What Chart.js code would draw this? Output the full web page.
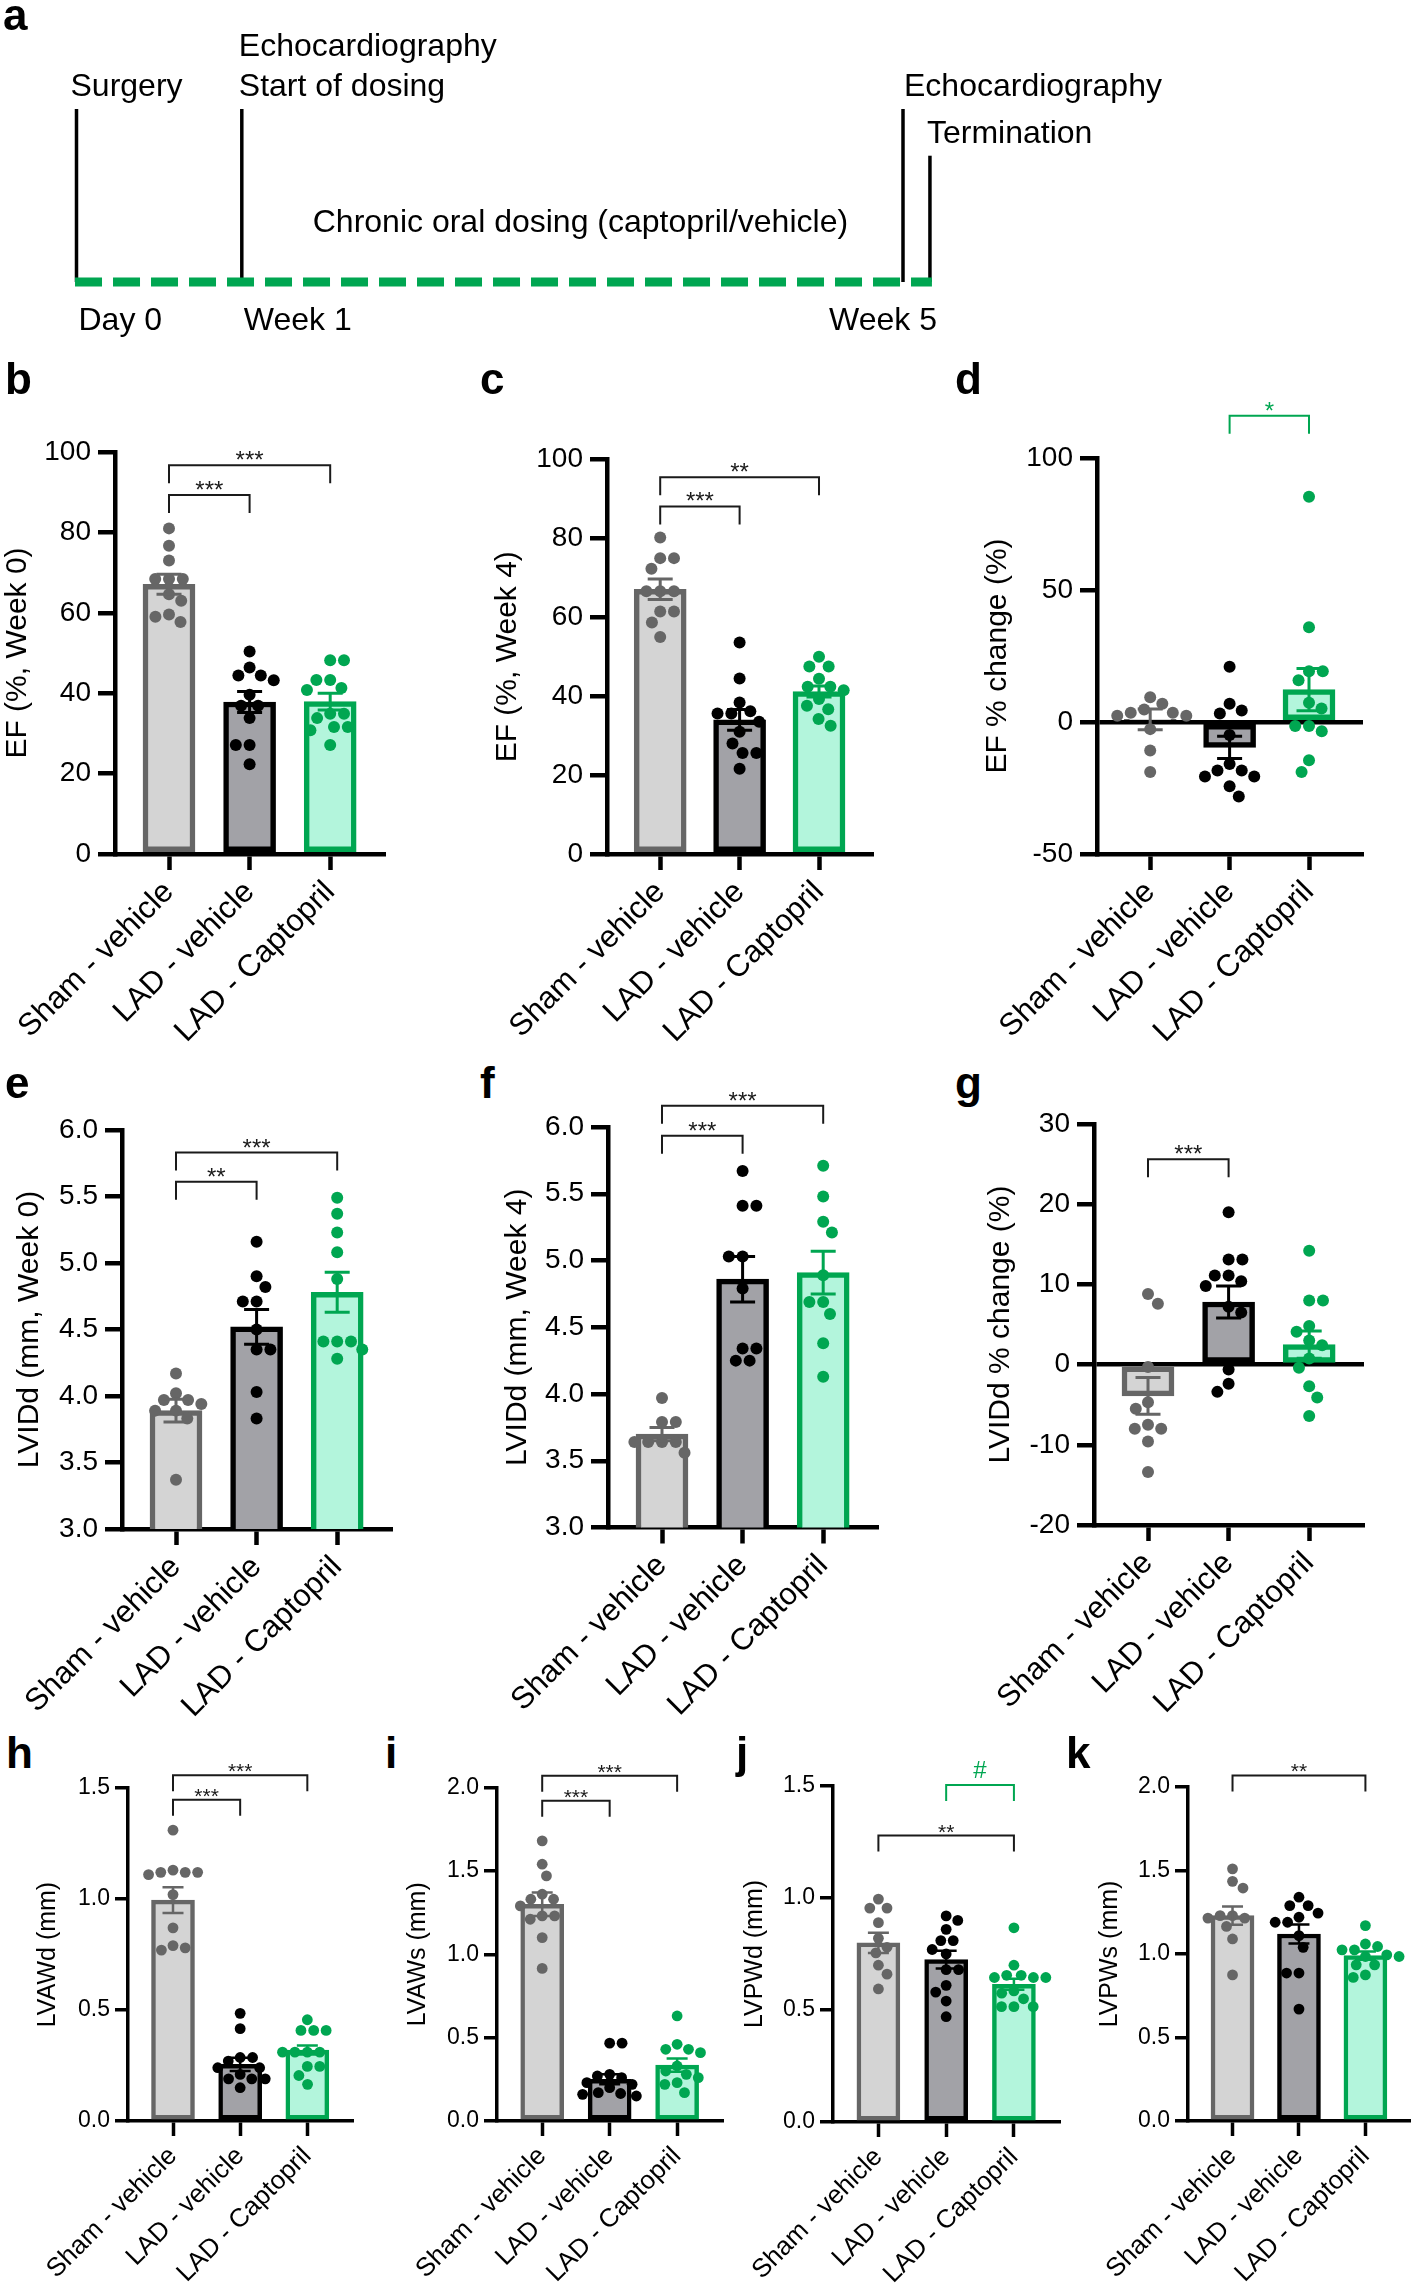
<!DOCTYPE html>
<html><head><meta charset="utf-8">
<script src="https://cdn.jsdelivr.net/npm/chart.js"></script>
<style>
html,body{margin:0;padding:0;background:#fff;}
#fig{position:relative;width:1416px;height:2287px;overflow:hidden;background:#fff;}
.box{position:absolute;}
.lbl{position:absolute;font-family:'Liberation Sans',Arial,Helvetica,sans-serif;font-weight:bold;font-size:44px;line-height:44px;color:#000;}
</style></head>
<body><div id="fig"></div>
<script>
// ---------------- DATA ----------------
const categories = ['Sham - vehicle', 'LAD - vehicle', 'LAD - Captopril'];

// a: timeline
const timelineWeeks = [0, 1, 5, 5.163];
const timelineTops = [1, 1, 1, 0.73];
const timelineLabels = [['Surgery'], ['Echocardiography', 'Start of dosing'], ['Echocardiography'], ['Termination']];
const timelineTickLabels = ['Day 0', 'Week 1', 'Week 5'];
const timelineTickWeeks = [0, 1, 5];
const dosingSpan = [-0.009, 5.175];
const dosingLabel = 'Chronic oral dosing (captopril/vehicle)';

// b: EF week 0
const ef0Sham = [81.0, 76.7, 73.0, 68.4, 68.4, 68.4, 64.6, 63.0, 59.6, 59.0, 57.7];
const ef0Lad  = [50.4, 46.4, 44.4, 44.4, 43.2, 39.6, 36.9, 36.9, 33.8, 27.1, 27.1, 22.3];
const ef0Cap  = [48.2, 48.2, 43.3, 43.3, 41.3, 40.8, 34.9, 34.9, 33.8, 31.6, 31.6, 30.8, 27.1];
const ef0Mean = [67.1, 37.8, 37.9];
const ef0Sem  = [2.5, 2.6, 2.1];
const ef0Sig  = [[0, 1, 89.3, '***'], [0, 2, 96.7, '***']];

// c: EF week 4
const ef4Sham = [80.2, 75.0, 75.0, 72.3, 66.6, 66.6, 66.6, 61.5, 61.5, 58.7, 55.0];
const ef4Lad  = [53.6, 44.5, 38.4, 36.2, 35.6, 35.6, 33.5, 31.0, 28.0, 25.6, 25.6, 21.6];
const ef4Cap  = [50.0, 47.5, 47.5, 44.4, 42.4, 42.4, 41.5, 39.3, 37.6, 36.7, 34.2, 32.5];
const ef4Mean = [67.1, 34.0, 41.2];
const ef4Sem  = [2.6, 2.6, 1.4];
const ef4Sig  = [[0, 1, 88.1, '***'], [0, 2, 95.5, '**']];

// d: EF % change
const efChSham = [9.4, 6.9, 4.7, 3.5, 3.5, 2.4, 2.4, -2.7, -10.8, -18.9];
const efChLad  = [20.9, 6.9, 4.4, 3.2, -4.9, -15.9, -18.4, -18.4, -20.6, -20.6, -24.3, -28.2];
const efChCap  = [85.3, 35.9, 19.2, 19.2, 15.8, 7.3, 5.1, -1.5, -1.5, -3.5, -14.5, -18.9];
const efChMean = [1.0, -9.6, 12.3];
const efChSem  = [3.9, 4.2, 8.0];
const efChSig  = [[1, 2, 116, '*', 'green']];

// e: LVIDd week 0
const lvid0Sham = [4.17, 4.02, 3.97, 3.97, 3.94, 3.89, 3.89, 3.83, 3.37];
const lvid0Lad  = [5.16, 4.90, 4.82, 4.71, 4.71, 4.50, 4.35, 4.35, 4.03, 3.83];
const lvid0Cap  = [5.49, 5.37, 5.23, 5.08, 4.88, 4.41, 4.41, 4.41, 4.35, 4.28];
const lvid0Mean = [3.89, 4.52, 4.78];
const lvid0Sem  = [0.085, 0.13, 0.15];
const lvid0Sig  = [[0, 1, 5.61, '**'], [0, 2, 5.83, '***']];

// f: LVIDd week 4
const lvid4Sham = [3.97, 3.79, 3.79, 3.64, 3.64, 3.64, 3.64, 3.56];
const lvid4Lad  = [5.67, 5.41, 5.41, 5.03, 5.03, 4.79, 4.34, 4.34, 4.25, 4.25];
const lvid4Cap  = [5.71, 5.48, 5.29, 5.21, 4.89, 4.69, 4.69, 4.60, 4.38, 4.13];
const lvid4Mean = [3.70, 4.86, 4.91];
const lvid4Sem  = [0.05, 0.17, 0.16];
const lvid4Sig  = [[0, 1, 5.935, '***'], [0, 2, 6.16, '***']];

// g: LVIDd % change
const lvidChSham = [8.8, 7.6, -0.3, -4.7, -5.5, -7.5, -8.0, -8.0, -9.6, -13.4];
const lvidChLad  = [19.0, 13.1, 13.1, 11.1, 11.1, 10.4, 9.8, 7.2, 6.5, -0.6, -2.4, -3.4];
const lvidChCap  = [14.2, 8.0, 8.0, 4.8, 4.1, 3.0, 2.4, 0.75, -0.4, -2.7, -4.1, -6.4];
const lvidChMean = [-3.9, 7.8, 2.5];
const lvidChSem  = [2.3, 2.0, 1.7];
const lvidChSig  = [[0, 1, 25.6, '***']];

// h: LVAWd
const lvawdSham = [1.31, 1.13, 1.12, 1.12, 1.12, 1.11, 1.02, 0.87, 0.79, 0.78, 0.77];
const lvawdLad  = [0.485, 0.416, 0.286, 0.286, 0.27, 0.24, 0.24, 0.21, 0.19, 0.19, 0.19, 0.15];
const lvawdCap  = [0.456, 0.408, 0.408, 0.408, 0.31, 0.31, 0.31, 0.31, 0.246, 0.246, 0.205, 0.165];
const lvawdMean = [0.995, 0.255, 0.32];
const lvawdSem  = [0.058, 0.03, 0.02];
const lvawdSig  = [[0, 1, 1.447, '***'], [0, 2, 1.557, '***']];

// i: LVAWs
const lvawsSham = [1.68, 1.54, 1.47, 1.36, 1.33, 1.33, 1.29, 1.23, 1.23, 1.21, 1.10, 0.915];
const lvawsLad  = [0.467, 0.467, 0.28, 0.27, 0.26, 0.23, 0.22, 0.20, 0.17, 0.165, 0.16, 0.15];
const lvawsCap  = [0.63, 0.46, 0.43, 0.43, 0.41, 0.33, 0.30, 0.28, 0.26, 0.23, 0.22, 0.17];
const lvawsMean = [1.30, 0.25, 0.335];
const lvawsSem  = [0.07, 0.03, 0.04];
const lvawsSig  = [[0, 1, 1.92, '***'], [0, 2, 2.07, '***']];

// j: LVPWd
const lvpwdSham = [0.995, 0.955, 0.955, 0.89, 0.82, 0.78, 0.755, 0.70, 0.66, 0.594];
const lvpwdLad  = [0.92, 0.90, 0.86, 0.81, 0.81, 0.77, 0.75, 0.68, 0.68, 0.61, 0.58, 0.54, 0.47];
const lvpwdCap  = [0.867, 0.70, 0.655, 0.655, 0.645, 0.645, 0.645, 0.585, 0.575, 0.55, 0.515, 0.515, 0.515];
const lvpwdMean = [0.80, 0.725, 0.615];
const lvpwdSem  = [0.045, 0.04, 0.025];
const lvpwdSig  = [[0, 2, 1.279, '**'], [1, 2, 1.505, '#', 'green']];

// k: LVPWs
const lvpwsSham = [1.51, 1.435, 1.395, 1.23, 1.23, 1.215, 1.215, 1.165, 1.09, 0.875];
const lvpwsLad  = [1.34, 1.29, 1.29, 1.245, 1.22, 1.19, 1.19, 1.11, 1.04, 0.886, 0.886, 0.67];
const lvpwsCap  = [1.17, 1.06, 1.045, 1.025, 1.025, 0.995, 0.985, 0.985, 0.935, 0.935, 0.875, 0.86];
const lvpwsMean = [1.23, 1.12, 0.99];
const lvpwsSem  = [0.055, 0.057, 0.025];
const lvpwsSig  = [[0, 2, 2.069, '**']];

// tick labels
const efTicks = [0, 20, 40, 60, 80, 100];
const efChTicks = [-50, 0, 50, 100];
const lvidTicks = [3.0, 3.5, 4.0, 4.5, 5.0, 5.5, 6.0];
const lvidChTicks = [-20, -10, 0, 10, 20, 30];
const wall15Ticks = [0.0, 0.5, 1.0, 1.5];
const wall20Ticks = [0.0, 0.5, 1.0, 1.5, 2.0];

// ---------------- STYLE ----------------
const FONT = "'Liberation Sans', Arial, Helvetica, sans-serif";
Chart.defaults.font.family = FONT;
Chart.defaults.color = '#000';
const GREEN = '#00a651';
const groupStyle = [
  { fill: '#d4d4d4', edge: '#666666', dot: '#666666' },
  { fill: '#a2a2a7', edge: '#000000', dot: '#000000' },
  { fill: '#b3f5dc', edge: GREEN, dot: GREEN }
];
const BIG = { tickFont: 28, titleFont: 30, xFont: 31, axisW: 4.5, yTick: 17, xTick: 16, yPad: 7, xPad: 4,
  barW: 52, barBorder: 5.5, r: 6, errW: 3, cap: 12.5, brW: 2, leg: 18, sigFont: 24 };
const SMALL = { tickFont: 23, titleFont: 25, xFont: 26, axisW: 3.5, yTick: 13, xTick: 15, yPad: 5, xPad: 5,
  barW: 43, barBorder: 4.5, r: 5.4, errW: 2.5, cap: 10.5, brW: 2, leg: 16, sigFont: 21 };
const XMIN = -0.67, XMAX = 2.68;

const fig = document.getElementById('fig');
function addBox(left, top, width, height) {
  const d = document.createElement('div');
  d.className = 'box';
  Object.assign(d.style, { left: left + 'px', top: top + 'px', width: width + 'px', height: height + 'px' });
  const c = document.createElement('canvas');
  d.appendChild(c);
  fig.appendChild(d);
  return c;
}

// ---------------- PLUGINS ----------------
const statPlugin = {
  id: 'stat',
  afterDatasetsDraw(chart, args, o) {
    if (!o || !o.means) return;
    const { ctx } = chart;
    const xs = chart.scales.x, ys = chart.scales.y;
    const S = o.S;
    ctx.save();
    ctx.lineCap = 'butt';
    o.means.forEach((m, i) => {
      const px = xs.getPixelForValue(i);
      const t = ys.getPixelForValue(m + o.sems[i]);
      const b = ys.getPixelForValue(m - o.sems[i]);
      ctx.strokeStyle = groupStyle[i].edge;
      ctx.lineWidth = S.errW;
      ctx.beginPath();
      ctx.moveTo(px, t); ctx.lineTo(px, b);
      ctx.moveTo(px - S.cap, t); ctx.lineTo(px + S.cap, t);
      ctx.moveTo(px - S.cap, b); ctx.lineTo(px + S.cap, b);
      ctx.stroke();
    });
    o.brackets.forEach(br => {
      const [a, b, v, label, col] = br;
      const xa = xs.getPixelForValue(a), xb = xs.getPixelForValue(b), py = ys.getPixelForValue(v);
      const c = col === 'green' ? GREEN : '#1a1a1a';
      ctx.strokeStyle = c;
      ctx.lineWidth = S.brW;
      ctx.lineJoin = 'miter';
      ctx.beginPath();
      ctx.moveTo(xa, py + S.leg); ctx.lineTo(xa, py); ctx.lineTo(xb, py); ctx.lineTo(xb, py + S.leg);
      ctx.stroke();
      ctx.fillStyle = c;
      ctx.textAlign = 'center';
      ctx.textBaseline = 'alphabetic';
      if (label === '#') {
        ctx.font = '24px ' + FONT;
        ctx.fillText(label, (xa + xb) / 2, py - 7);
      } else {
        ctx.font = S.sigFont + 'px ' + FONT;
        ctx.fillText(label, (xa + xb) / 2, py + 3);
      }
    });
    ctx.restore();
  }
};

const timelinePlugin = {
  id: 'timeline',
  afterDraw(chart) {
    const { ctx } = chart;
    const xs = chart.scales.x, ys = chart.scales.y;
    ctx.save();
    ctx.font = '32px ' + FONT;
    ctx.fillStyle = '#000';
    ctx.textBaseline = 'alphabetic';
    ctx.textAlign = 'left';
    timelineWeeks.forEach((w, i) => {
      const px = xs.getPixelForValue(w), top = ys.getPixelForValue(timelineTops[i]);
      const lines = timelineLabels[i];
      const dx = i === 0 ? -6 : (i === 2 ? 1 : -3);
      lines.forEach((t, k) => ctx.fillText(t, px + dx, top - 13 - (lines.length - 1 - k) * 40));
    });
    const base = ys.getPixelForValue(0);
    ctx.textAlign = 'center';
    ctx.fillText(dosingLabel, xs.getPixelForValue((timelineWeeks[1] + timelineWeeks[2]) / 2) + 8, base - 50);
    timelineTickLabels.forEach((t, i) => {
      if (i === timelineTickLabels.length - 1) {
        ctx.textAlign = 'right';
        ctx.fillText(t, xs.getPixelForValue(dosingSpan[1]) + 5, base + 48);
      } else {
        ctx.textAlign = 'left';
        ctx.fillText(t, xs.getPixelForValue(timelineTickWeeks[i]) + 2, base + 48);
      }
    });
    ctx.restore();
  }
};

// ---------------- PANEL a ----------------
(function () {
  const W = 1416, H = 350;
  const c = addBox(0, 0, W, H);
  const datasets = timelineWeeks.map((w, i) => ({
    data: [{ x: w, y: 0 }, { x: w, y: timelineTops[i] }],
    borderColor: '#000', borderWidth: 3.5, pointRadius: 0, clip: false, order: 2, borderCapStyle: 'butt'
  }));
  datasets.push({
    data: dosingSpan.map(w => ({ x: w, y: 0 })),
    borderColor: GREEN, borderWidth: 9, borderDash: [27, 11], borderCapStyle: 'butt',
    pointRadius: 0, clip: false, order: 1
  });
  new Chart(c, {
    type: 'line',
    data: { datasets },
    options: {
      responsive: true, maintainAspectRatio: false, animation: false, events: [],
      layout: { padding: { left: 76.5, right: W - 903, top: 109, bottom: H - 282 } },
      plugins: { legend: { display: false }, tooltip: { enabled: false } },
      scales: {
        x: { type: 'linear', min: 0, max: 5, display: false },
        y: { type: 'linear', min: 0, max: 1, display: false }
      }
    },
    plugins: [timelinePlugin]
  });
})();

// ---------------- BAR PANELS ----------------
function swarm(chart, S) {
  const xs = chart.scales.x, ys = chart.scales.y;
  const unit = xs.getPixelForValue(1) - xs.getPixelForValue(0);
  const D = 2 * S.r * 1.15;
  chart.data.datasets.forEach(ds => {
    if (ds.type !== 'scatter') return;
    const g = ds.grp;
    const pts = ds.data.map((d, i) => ({ i, py: ys.getPixelForValue(d.y) }));
    const order = pts.slice().sort((a, b) => a.py - b.py);
    const placed = [];
    let side = 1;
    const out = ds.data.map(d => ({ x: g, y: d.y }));
    order.forEach(p => {
      const cands = [0];
      placed.forEach(q => {
        const dy = Math.abs(q.py - p.py);
        if (dy < D) {
          const dx = Math.sqrt(D * D - dy * dy);
          cands.push(q.ox + dx, q.ox - dx);
        }
      });
      cands.sort((a, b) => (Math.abs(a) - Math.abs(b)) || (side * (b - a)));
      let ox = 0;
      for (const cnd of cands) {
        if (placed.every(q => (q.ox - cnd) ** 2 + (q.py - p.py) ** 2 >= D * D - 0.01)) { ox = cnd; break; }
      }
      if (ox !== 0) side = -Math.sign(ox);
      p.ox = ox;
      placed.push(p);
      out[p.i].x = g + ox / unit;
    });
    ds.data = out;
  });
  chart.update('none');
}

function makePanel(p) {
  const S = p.small ? SMALL : BIG;
  const [cl, ct, cw, chh] = p.box;
  const [al, at, ar, ab] = p.area;
  const canvas = addBox(cl, ct, cw, chh);
  const datasets = [{
    type: 'bar',
    data: p.means.map((m, i) => ({ x: i, y: m })),
    backgroundColor: groupStyle.map(g => g.fill),
    borderColor: groupStyle.map(g => g.edge),
    borderWidth: S.barBorder, borderSkipped: false, barThickness: S.barW, order: 3
  }];
  p.groups.forEach((vals, g) => datasets.push({
    type: 'scatter', grp: g,
    data: vals.map(v => ({ x: g, y: v })),
    pointRadius: S.r, pointBackgroundColor: groupStyle[g].dot, pointBorderWidth: 0,
    order: 1, clip: false
  }));
  const fmt = v => p.dec ? Number(v).toFixed(p.dec) : String(v);
  const chart = new Chart(canvas, {
    type: 'bar',
    data: { datasets },
    options: {
      responsive: true, maintainAspectRatio: false, animation: false, events: [],
      layout: { padding: { left: 0, top: at - ct, right: cl + cw - ar, bottom: 0 } },
      plugins: {
        legend: { display: false }, tooltip: { enabled: false },
        stat: { means: p.means, sems: p.sems, brackets: p.sig, S }
      },
      scales: {
        x: {
          type: 'linear', min: XMIN, max: XMAX, offset: false,
          afterBuildTicks: s => { s.ticks = categories.map((c, i) => ({ value: i })); },
          afterFit: s => { s.height = ct + chh - ab; s.paddingLeft = 0; s.paddingRight = 0; },
          ticks: { callback: v => categories[v], minRotation: 45, maxRotation: 45, autoSkip: false,
            padding: S.xPad, font: { size: S.xFont }, color: '#000' },
          grid: { offset: false, drawOnChartArea: false, drawTicks: true, tickLength: S.xTick, tickWidth: S.axisW, tickColor: '#000' },
          border: { display: true, color: '#000', width: S.axisW }
        },
        y: {
          type: 'linear', min: p.ticks[0], max: p.ticks[p.ticks.length - 1],
          afterBuildTicks: s => { s.ticks = p.ticks.map(v => ({ value: v })); },
          afterFit: s => { s.width = al - cl; s.paddingTop = 0; s.paddingBottom = 0; },
          ticks: { callback: v => fmt(v), padding: S.yPad, font: { size: S.tickFont }, color: '#000' },
          grid: {
            offset: false,
            drawOnChartArea: !!p.zero,
            color: ctx => (ctx.tick && ctx.tick.value === 0) ? '#000' : 'rgba(0,0,0,0)',
            lineWidth: S.axisW, drawTicks: true, tickLength: S.yTick, tickWidth: S.axisW, tickColor: '#000'
          },
          border: { display: true, color: '#000', width: S.axisW },
          title: { display: true, text: p.title, font: { size: S.titleFont }, color: '#000', padding: 0 }
        }
      }
    },
    plugins: [statPlugin]
  });
  swarm(chart, S);
}

const panels = [
  { box: [0, 360, 400, 695], area: [115, 452, 385, 854], title: 'EF (%, Week 0)', ticks: efTicks, dec: 0,
    groups: [ef0Sham, ef0Lad, ef0Cap], means: ef0Mean, sems: ef0Sem, sig: ef0Sig },
  { box: [490, 360, 395, 695], area: [607, 459.5, 873, 854], title: 'EF (%, Week 4)', ticks: efTicks, dec: 0,
    groups: [ef4Sham, ef4Lad, ef4Cap], means: ef4Mean, sems: ef4Sem, sig: ef4Sig },
  { box: [980, 360, 400, 695], area: [1097, 458, 1363, 854], title: 'EF % change (%)', ticks: efChTicks, dec: 0, zero: true,
    groups: [efChSham, efChLad, efChCap], means: efChMean, sems: efChSem, sig: efChSig },
  { box: [12, 1060, 395, 665], area: [122, 1130, 392, 1529], title: 'LVIDd (mm, Week 0)', ticks: lvidTicks, dec: 1,
    groups: [lvid0Sham, lvid0Lad, lvid0Cap], means: lvid0Mean, sems: lvid0Sem, sig: lvid0Sig },
  { box: [500, 1060, 390, 665], area: [608, 1127, 878, 1527.5], title: 'LVIDd (mm, Week 4)', ticks: lvidTicks, dec: 1,
    groups: [lvid4Sham, lvid4Lad, lvid4Cap], means: lvid4Mean, sems: lvid4Sem, sig: lvid4Sig },
  { box: [983, 1060, 400, 665], area: [1094, 1124, 1364, 1525], title: 'LVIDd % change (%)', ticks: lvidChTicks, dec: 0, zero: true,
    groups: [lvidChSham, lvidChLad, lvidChCap], means: lvidChMean, sems: lvidChSem, sig: lvidChSig },
  { box: [33, 1735, 335, 552], area: [128, 1788, 353, 2121], title: 'LVAWd (mm)', ticks: wall15Ticks, dec: 1, small: true,
    groups: [lvawdSham, lvawdLad, lvawdCap], means: lvawdMean, sems: lvawdSem, sig: lvawdSig },
  { box: [403, 1735, 335, 552], area: [497, 1787.5, 723, 2121], title: 'LVAWs (mm)', ticks: wall20Ticks, dec: 1, small: true,
    groups: [lvawsSham, lvawsLad, lvawsCap], means: lvawsMean, sems: lvawsSem, sig: lvawsSig },
  { box: [740, 1735, 330, 552], area: [833, 1786, 1060, 2122], title: 'LVPWd (mm)', ticks: wall15Ticks, dec: 1, small: true,
    groups: [lvpwdSham, lvpwdLad, lvpwdCap], means: lvpwdMean, sems: lvpwdSem, sig: lvpwdSig },
  { box: [1095, 1735, 321, 552], area: [1188, 1787, 1413, 2121], title: 'LVPWs (mm)', ticks: wall20Ticks, dec: 1, small: true,
    groups: [lvpwsSham, lvpwsLad, lvpwsCap], means: lvpwsMean, sems: lvpwsSem, sig: lvpwsSig }
];
panels.forEach(makePanel);

// ---------------- PANEL LETTERS ----------------
const panelLetters = [['a', 3, -7], ['b', 5, 357], ['c', 480, 357], ['d', 955, 357],
  ['e', 5, 1061], ['f', 480, 1061], ['g', 955, 1061],
  ['h', 6, 1731], ['i', 385, 1731], ['j', 736, 1731], ['k', 1066, 1731]];
panelLetters.forEach(([t, x, y]) => {
  const d = document.createElement('div');
  d.className = 'lbl';
  d.textContent = t;
  d.style.left = x + 'px';
  d.style.top = y + 'px';
  fig.appendChild(d);
});
</script>
</body></html>
